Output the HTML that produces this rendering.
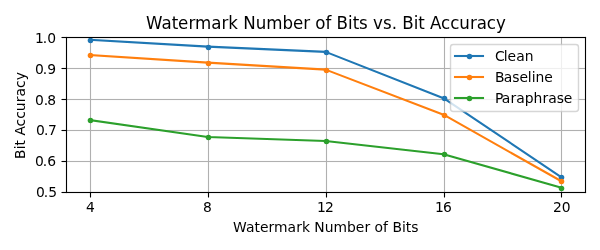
<!DOCTYPE html>
<html><head><meta charset="utf-8"><title>Watermark Number of Bits vs. Bit Accuracy</title>
<style>html,body{margin:0;padding:0;background:#fff;overflow:hidden}svg{display:block}</style></head>
<body>
<svg width="600" height="250" viewBox="0 0 600 250">
<defs><clipPath id="c"><rect x="66.278" y="37.333" width="518.722" height="154.389"/></clipPath></defs>
<rect width="600" height="250" fill="#fff"/>
<g stroke="#b0b0b0" stroke-width="1.111" fill="none">
<line x1="90.5" y1="37.5" x2="90.5" y2="192.5"/>
<line x1="208.5" y1="37.5" x2="208.5" y2="192.5"/>
<line x1="326.5" y1="37.5" x2="326.5" y2="192.5"/>
<line x1="444.5" y1="37.5" x2="444.5" y2="192.5"/>
<line x1="561.5" y1="37.5" x2="561.5" y2="192.5"/>
<line x1="66.5" y1="37.5" x2="585.5" y2="37.5"/>
<line x1="66.5" y1="68.5" x2="585.5" y2="68.5"/>
<line x1="66.5" y1="99.5" x2="585.5" y2="99.5"/>
<line x1="66.5" y1="130.5" x2="585.5" y2="130.5"/>
<line x1="66.5" y1="161.5" x2="585.5" y2="161.5"/>
<line x1="66.5" y1="192.5" x2="585.5" y2="192.5"/>
</g>
<g fill="#b0b0b0" fill-opacity="0.0556" clip-path="url(#c)">
<rect x="66" y="36.0" width="520" height="1"/><rect x="66" y="38.0" width="520" height="1"/>
<rect x="66" y="67.0" width="520" height="1"/><rect x="66" y="69.0" width="520" height="1"/>
<rect x="66" y="98.0" width="520" height="1"/><rect x="66" y="100.0" width="520" height="1"/>
<rect x="66" y="129.0" width="520" height="1"/><rect x="66" y="131.0" width="520" height="1"/>
<rect x="66" y="160.0" width="520" height="1"/><rect x="66" y="162.0" width="520" height="1"/>
<rect x="66" y="191.0" width="520" height="1"/><rect x="66" y="193.0" width="520" height="1"/>
</g>
<g stroke="#000" stroke-width="1.111" fill="none">
<line x1="90.5" y1="192.5" x2="90.5" y2="197.5"/>
<line x1="208.5" y1="192.5" x2="208.5" y2="197.5"/>
<line x1="326.5" y1="192.5" x2="326.5" y2="197.5"/>
<line x1="444.5" y1="192.5" x2="444.5" y2="197.5"/>
<line x1="561.5" y1="192.5" x2="561.5" y2="197.5"/>
<line x1="66.5" y1="37.5" x2="61.5" y2="37.5"/>
<line x1="66.5" y1="68.5" x2="61.5" y2="68.5"/>
<line x1="66.5" y1="99.5" x2="61.5" y2="99.5"/>
<line x1="66.5" y1="130.5" x2="61.5" y2="130.5"/>
<line x1="66.5" y1="161.5" x2="61.5" y2="161.5"/>
<line x1="66.5" y1="192.5" x2="61.5" y2="192.5"/>
</g>
<g clip-path="url(#c)">
<polyline points="89.856,39.804 207.747,46.597 325.639,51.846 443.530,98.163 561.422,177.210" fill="none" stroke="#1f77b4" stroke-width="2.083" stroke-linejoin="round" stroke-linecap="square"/>
<circle cx="90.500" cy="40.500" r="2.778" fill="#1f77b4"/>
<circle cx="208.500" cy="47.500" r="2.778" fill="#1f77b4"/>
<circle cx="326.500" cy="52.500" r="2.778" fill="#1f77b4"/>
<circle cx="444.500" cy="98.500" r="2.778" fill="#1f77b4"/>
<circle cx="561.500" cy="177.500" r="2.778" fill="#1f77b4"/>
<polyline points="89.856,54.934 207.747,62.653 325.639,69.601 443.530,114.682 561.422,181.224" fill="none" stroke="#ff7f0e" stroke-width="2.083" stroke-linejoin="round" stroke-linecap="square"/>
<circle cx="90.500" cy="55.500" r="2.778" fill="#ff7f0e"/>
<circle cx="208.500" cy="63.500" r="2.778" fill="#ff7f0e"/>
<circle cx="326.500" cy="70.500" r="2.778" fill="#ff7f0e"/>
<circle cx="444.500" cy="115.500" r="2.778" fill="#ff7f0e"/>
<circle cx="561.500" cy="181.500" r="2.778" fill="#ff7f0e"/>
<polyline points="89.856,120.086 207.747,137.069 325.639,141.083 443.530,154.206 561.422,187.708" fill="none" stroke="#2ca02c" stroke-width="2.083" stroke-linejoin="round" stroke-linecap="square"/>
<circle cx="90.500" cy="120.500" r="2.778" fill="#2ca02c"/>
<circle cx="208.500" cy="137.500" r="2.778" fill="#2ca02c"/>
<circle cx="326.500" cy="141.500" r="2.778" fill="#2ca02c"/>
<circle cx="444.500" cy="154.500" r="2.778" fill="#2ca02c"/>
<circle cx="561.500" cy="188.500" r="2.778" fill="#2ca02c"/>
</g>
<g stroke="#000" stroke-width="1.111" fill="none" stroke-linecap="square">
<line x1="66.5" y1="37.5" x2="66.5" y2="192.5"/><line x1="585.5" y1="37.5" x2="585.5" y2="192.5"/>
<line x1="66.5" y1="192.5" x2="585.5" y2="192.5"/><line x1="66.5" y1="37.5" x2="585.5" y2="37.5"/>
</g>
<g fill="#000" fill-opacity="0.0556">
<rect x="65.944" y="36.0" width="520.111" height="1"/><rect x="65.944" y="38.0" width="520.111" height="1"/>
<rect x="65.944" y="191.0" width="520.111" height="1"/><rect x="65.944" y="193.0" width="520.111" height="1"/>
</g>
<rect x="450.5" y="44.5" width="128" height="67" rx="2.778" fill="#fff" stroke="#ccc" stroke-width="1.389" opacity="0.8"/>
<line x1="455" y1="56" x2="483" y2="56" stroke="#1f77b4" stroke-width="2.083" stroke-linecap="square"/>
<circle cx="469.5" cy="56.5" r="2.778" fill="#1f77b4"/>
<line x1="455" y1="77" x2="483" y2="77" stroke="#ff7f0e" stroke-width="2.083" stroke-linecap="square"/>
<circle cx="469.5" cy="77.5" r="2.778" fill="#ff7f0e"/>
<line x1="455" y1="98" x2="483" y2="98" stroke="#2ca02c" stroke-width="2.083" stroke-linecap="square"/>
<circle cx="469.5" cy="98.5" r="2.778" fill="#2ca02c"/>
<g style="font-family:'DejaVu Sans',sans-serif" fill="#000">
<text x="146.006 161.397 171.74 177.897 188.381 194.943 211.162 221.506 228.225 237.865 243.287 255.74 266.178 282.397 292.975 303.225 310.068 315.365 325.553 331.428 336.584 348.022 352.772 359.053 367.975 373.022 383.006 391.678 397.1 402.272 413.693 418.318 424.975 429.897 440.881 450.162 459.193 470.006 476.85 486.803 495.959" y="0" font-size="16.667" transform="translate(0 28.50) scale(1 1.060)">Watermark Number of Bits vs. Bit Accuracy</text>
<text x="233.084 245.912 254.537 259.975 268.506 273.975 287.615 296.24 301.943 309.85 314.272 324.647 333.443 346.959 355.756 364.553 370.006 374.412 382.897 387.787 392.443 401.959 405.818 411.256" y="232" font-size="13.889">Watermark Number of Bits</text>
<text x="-43.414 -33.773 -29.93 -24.477 -20.07 -10.945 -3.32 4.305 13.227 18.93 27.555 35.18" y="0" font-size="13.889" transform="translate(24.51 115.485) rotate(-90)">Bit Accuracy</text>
<text x="85.946" y="212" font-size="13.889">4</text>
<text x="202.936" y="212" font-size="13.889">8</text>
<text x="316.967 325.029" y="212" font-size="13.889">12</text>
<text x="434.962 443.024" y="212" font-size="13.889">16</text>
<text x="552.887 561.699" y="212" font-size="13.889">20</text>
<text x="35.887 43.699 48.371" y="197" font-size="13.889">0.5</text>
<text x="34.992 42.679 47.351" y="166" font-size="13.889">0.6</text>
<text x="35.932 44.119 47.916" y="135" font-size="13.889">0.7</text>
<text x="34.947 43.759 47.181" y="105" font-size="13.889">0.8</text>
<text x="34.887 42.699 47.371" y="74" font-size="13.889">0.9</text>
<text x="34.962 42.774 47.196" y="43" font-size="13.889">1.0</text>
<text x="494.9 503.837 507.556 516.353 524.728" y="61" font-size="13.889">Clean</text>
<text x="494.885 503.651 512.151 519.385 527.666 531.776 535.494 544.291" y="82" font-size="13.889">Baseline</text>
<text x="494.97 501.829 510.579 516.282 524.782 533.47 542.517 548.22 556.72 563.829" y="103" font-size="13.889">Paraphrase</text>
</g>
</svg>
</body></html>
